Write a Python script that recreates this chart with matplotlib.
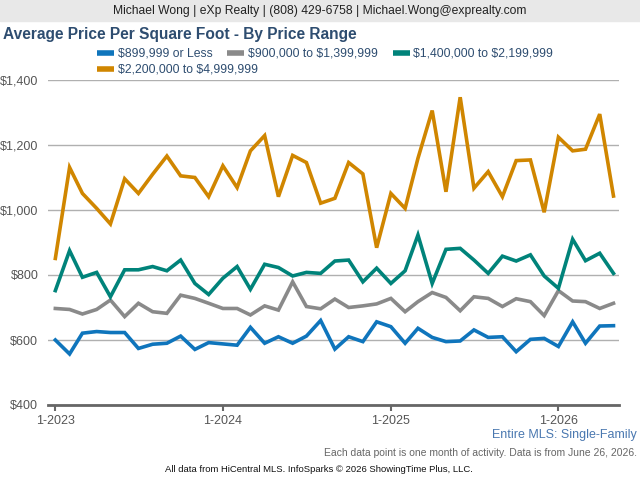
import matplotlib.pyplot as plt
import matplotlib.dates as mdates
import pandas as pd

plt.rcParams['font.family'] = ['Liberation Sans', 'DejaVu Sans']
plt.rcParams['text.parse_math'] = False

# monthly data, Jan 2023 - May 2026
months = pd.date_range('2023-01-01', '2026-05-01', freq='MS')

under_900k = [600, 557, 621, 626, 623, 623, 574, 587, 590, 612,
              571, 592, 588, 584, 639, 590, 610, 590, 612, 660,
              572, 610, 595, 656, 641, 590, 636, 608, 595, 597,
              631, 608, 610, 564, 602, 605, 580, 656, 590, 643, 644]
from_900k = [697, 694, 680, 694, 723, 672, 713, 687, 682, 738,
             728, 713, 697, 697, 677, 705, 692, 779, 703, 696,
             726, 700, 705, 711, 728, 687, 718, 746, 731, 690,
             733, 728, 703, 727, 718, 675, 752, 720, 718, 697, 713]
from_1400k = [752, 875, 793, 808, 733, 816, 816, 826, 813, 846,
              774, 740, 790, 826, 756, 833, 823, 797, 808, 805,
              843, 846, 779, 821, 774, 813, 923, 774, 879, 882,
              846, 805, 858, 843, 862, 797, 759, 910, 844, 867, 805]
from_2200k = [851, 1131, 1051, 1005, 957, 1096, 1051, 1110, 1166, 1105,
              1100, 1041, 1136, 1069, 1182, 1229, 1041, 1168, 1146, 1021,
              1036, 1146, 1111, 884, 1051, 1005, 1159, 1306, 1056, 1347,
              1067, 1118, 1041, 1152, 1154, 993, 1224, 1182, 1187, 1295, 1043]

labels = ['$899,999 or Less', '$900,000 to $1,399,999',
          '$1,400,000 to $2,199,999', '$2,200,000 to $4,999,999']
colors = ['#0f75bc', '#8a8a8a', '#00837a', '#d08600']

fig = plt.figure(figsize=(6.4, 4.8), dpi=100)
ax = fig.add_axes([48 / 640, 75 / 480, 571 / 640, 325 / 480])

series = [under_900k, from_900k, from_1400k, from_2200k]
handles = []
for vals, lab, c in zip(series, labels, colors):
    h, = ax.plot(months, vals, color=c, lw=2.6, label=lab, solid_joinstyle='miter')
    handles.append(h)

ax.set_ylim(400, 1400)
ax.set_yticks(range(400, 1401, 200))
ax.set_yticklabels(['$%s' % format(v, ',') for v in range(400, 1401, 200)])
ax.set_xlim(pd.Timestamp('2022-12-16'), pd.Timestamp('2026-05-13'))
ax.xaxis.set_major_locator(mdates.YearLocator())
ax.xaxis.set_major_formatter(mdates.DateFormatter('1-%Y'))

ax.grid(axis='y', color='#b0b0b0', lw=1)
ax.set_axisbelow(True)
for s in ['top', 'right', 'left']:
    ax.spines[s].set_visible(False)
ax.spines['bottom'].set_color('#666666')
ax.spines['bottom'].set_linewidth(2)
ax.tick_params(axis='y', length=0, pad=7, labelsize=9, labelcolor='#555555')
ax.tick_params(axis='x', length=4, width=1.5, color='#666666', pad=3,
               labelsize=9, labelcolor='#555555')

# header bar
fig.patches.append(plt.Rectangle((0, 1 - 21 / 480), 1, 21 / 480,
                                 transform=fig.transFigure, color='#e8e8e8', zorder=0))
fig.text(0.5, 1 - 11 / 480,
         'Michael Wong | eXp Realty | (808) 429-6758 | Michael.Wong@exprealty.com',
         ha='center', va='center', fontsize=8.7, color='#222222')
fig.text(3 / 640, 1 - 35 / 480, 'Average Price Per Square Foot - By Price Range',
         ha='left', va='center', fontsize=11.2, fontweight='bold', color='#2e4d70')

leg_kw = dict(frameon=False, fontsize=8.8, handlelength=1.4, handletextpad=0.3,
              borderpad=0, borderaxespad=0, labelcolor='#2e4d70', loc='upper left')
leg1 = fig.legend(handles[:3], labels[:3], ncol=3, columnspacing=1.2,
                  bbox_to_anchor=(97 / 640, 1 - 48 / 480), **leg_kw)
leg2 = fig.legend(handles[3:], labels[3:], bbox_to_anchor=(97 / 640, 1 - 64 / 480), **leg_kw)
for leg in (leg1, leg2):
    for line in leg.get_lines():
        line.set_linewidth(4)
        line.set_solid_capstyle('butt')

fig.text(637 / 640, 1 - 435 / 480, 'Entire MLS: Single-Family',
         ha='right', va='center', fontsize=9, color='#4a78b0')
fig.text(637 / 640, 1 - 453 / 480,
         'Each data point is one month of activity. Data is from June 26, 2026.',
         ha='right', va='center', fontsize=7.5, color='#666666')
fig.text(319 / 640, 1 - 469 / 480,
         'All data from HiCentral MLS. InfoSparks \u00a9 2026 ShowingTime Plus, LLC.',
         ha='center', va='center', fontsize=6.8, color='#111111')

fig.savefig('out.png', dpi=100)
